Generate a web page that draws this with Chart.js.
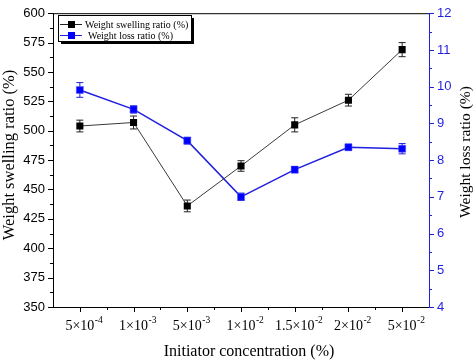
<!DOCTYPE html>
<html>
<head>
<meta charset="utf-8">
<script src="https://cdn.jsdelivr.net/npm/chart.js@4.4.0/dist/chart.umd.min.js"></script>
<style>
    html, body { margin: 0; padding: 0; background: #fff; }
    #wrap { width: 474px; height: 361px; position: relative; }
</style>
</head>
<body>
<div id="wrap"><canvas id="chart"></canvas></div>
<script>
// Data
const categories = ['5×10⁻⁴', '1×10⁻³', '5×10⁻³', '1×10⁻²', '1.5×10⁻²', '2×10⁻²', '5×10⁻²'];
const swellingRatio = [504, 507, 436, 470, 505, 526, 569];
const swellingErr = [5, 5.5, 5, 4.5, 6, 5, 6];
const lossRatio = [9.91, 9.38, 8.53, 7.0, 7.74, 8.35, 8.31];
const lossErr = [0.2, 0.1, 0.09, 0.1, 0.08, 0.08, 0.14];
const leftTicks = { min: 350, max: 600, step: 25 };
const rightTicks = { min: 4, max: 12, step: 1 };

const BLUE = '#1f1fe0';
const SERIF = '"Liberation Serif", "Times New Roman", serif';
const SANS = '"Liberation Sans", Arial, sans-serif';
const SUP = { '⁻': '-', '⁰': '0', '¹': '1', '²': '2', '³': '3', '⁴': '4', '⁵': '5', '⁶': '6', '⁷': '7', '⁸': '8', '⁹': '9' };

// tick marks, frame, error bars, titles and legend
const decorPlugin = {
    id: 'decor',
    beforeDatasetsDraw(chart) {
        const ctx = chart.ctx;
        const x = chart.scales.x;
        const errs = [swellingErr, lossErr];
        chart.data.datasets.forEach((ds, i) => {
            const ys = chart.scales[ds.yAxisID];
            ctx.save();
            ctx.strokeStyle = i === 0 ? '#222' : BLUE;
            ctx.lineWidth = 1;
            ds.data.forEach((v, j) => {
                const px = x.getPixelForValue(j);
                const top = ys.getPixelForValue(v + errs[i][j]);
                const bot = ys.getPixelForValue(v - errs[i][j]);
                ctx.beginPath();
                ctx.moveTo(px, top); ctx.lineTo(px, bot);
                ctx.moveTo(px - 3.5, top); ctx.lineTo(px + 3.5, top);
                ctx.moveTo(px - 3.5, bot); ctx.lineTo(px + 3.5, bot);
                ctx.stroke();
            });
            ctx.restore();
        });
    },
    afterDraw(chart) {
        const ctx = chart.ctx;
        const area = chart.chartArea;
        const x = chart.scales.x, y = chart.scales.y, y1 = chart.scales.y1;
        ctx.save();
        ctx.lineWidth = 1;

        // top frame
        ctx.strokeStyle = '#000';
        ctx.beginPath();
        ctx.moveTo(area.left, area.top + 0.5);
        ctx.lineTo(area.right, area.top + 0.5);
        ctx.stroke();

        // left ticks
        ctx.beginPath();
        for (let v = leftTicks.min; v <= leftTicks.max; v += leftTicks.step / 2) {
            const py = Math.round(y.getPixelForValue(v)) + 0.5;
            const len = (v - leftTicks.min) % leftTicks.step === 0 ? 5 : 3;
            ctx.moveTo(area.left, py); ctx.lineTo(area.left - len, py);
        }
        // bottom ticks
        const n = categories.length;
        for (let j = 0; j < n; j++) {
            const px = Math.round(x.getPixelForValue(j)) + 0.5;
            ctx.moveTo(px, area.bottom); ctx.lineTo(px, area.bottom + 5);
            if (j > 0) {
                const mx = Math.round((x.getPixelForValue(j - 1) + x.getPixelForValue(j)) / 2) + 0.5;
                ctx.moveTo(mx, area.bottom); ctx.lineTo(mx, area.bottom + 3);
            }
        }
        ctx.stroke();

        // right ticks
        ctx.strokeStyle = BLUE;
        ctx.beginPath();
        for (let v = rightTicks.min; v <= rightTicks.max; v += rightTicks.step / 2) {
            const py = Math.round(y1.getPixelForValue(v)) + 0.5;
            const len = (v - rightTicks.min) % rightTicks.step === 0 ? 5 : 3;
            ctx.moveTo(area.right, py); ctx.lineTo(area.right + len, py);
        }
        ctx.stroke();

        // x tick labels: mantissa centred on tick, exponent raised to the right
        ctx.fillStyle = '#000';
        ctx.textBaseline = 'alphabetic';
        categories.forEach((lab, j) => {
            const k = lab.indexOf('⁻');
            const base = k >= 0 ? lab.slice(0, k) : lab;
            const exp = k >= 0 ? lab.slice(k).split('').map(c => SUP[c] || c).join('') : '';
            const px = x.getPixelForValue(j);
            ctx.font = '14px ' + SERIF;
            const w = ctx.measureText(base).width;
            ctx.textAlign = 'center';
            ctx.fillText(base, px, 330);
            ctx.font = '9.5px ' + SERIF;
            ctx.textAlign = 'left';
            ctx.fillText(exp, px + w / 2 + 0.5, 323);
        });

        // axis titles
        ctx.fillStyle = '#000';
        ctx.textAlign = 'center';
        ctx.textBaseline = 'middle';
        ctx.font = '16px ' + SERIF;
        ctx.fillText('Initiator concentration (%)', 249, 352);
        ctx.save();
        ctx.translate(10, 155);
        ctx.rotate(-Math.PI / 2);
        ctx.font = '16.5px ' + SERIF;
        ctx.fillText('Weight swelling ratio (%)', 0, 0);
        ctx.restore();
        ctx.save();
        ctx.translate(466, 152);
        ctx.rotate(-Math.PI / 2);
        ctx.font = '15.5px ' + SERIF;
        ctx.fillText('Weight loss ratio (%)', 0, 0);
        ctx.restore();

        // legend with drop shadow
        const lx = 58, ly = 15, lw = 133, lh = 26;
        ctx.fillStyle = '#000';
        ctx.fillRect(lx + 3, ly + 3, lw, lh);
        ctx.fillStyle = '#fff';
        ctx.fillRect(lx, ly, lw, lh);
        ctx.strokeStyle = '#000';
        ctx.strokeRect(lx + 0.5, ly + 0.5, lw, lh);
        const rows = [
            { label: chart.data.datasets[0].label, color: '#222', fill: '#000', y: ly + 9, tx: 85 },
            { label: chart.data.datasets[1].label, color: BLUE, fill: '#0000ff', y: ly + 20, tx: 88 }
        ];
        ctx.font = '10px ' + SERIF;
        ctx.textAlign = 'left';
        rows.forEach(r => {
            ctx.strokeStyle = r.color;
            ctx.beginPath();
            ctx.moveTo(60, r.y + 0.5); ctx.lineTo(82, r.y + 0.5);
            ctx.stroke();
            ctx.fillStyle = r.fill;
            ctx.fillRect(68, r.y - 3, 7, 7);
            ctx.fillStyle = '#000';
            ctx.fillText(r.label, r.tx, r.y + 1);
        });
        ctx.restore();
    }
};

const ctx = document.getElementById('chart').getContext('2d');
new Chart(ctx, {
    type: 'line',
    data: {
        labels: categories,
        datasets: [{
            label: 'Weight swelling ratio (%)',
            data: swellingRatio,
            yAxisID: 'y',
            borderColor: '#3a3a3a',
            borderWidth: 1,
            pointStyle: 'rect',
            pointRadius: 5,
            pointBackgroundColor: '#000',
            pointBorderColor: '#000',
            pointBorderWidth: 0,
            tension: 0
        }, {
            label: 'Weight loss ratio (%)',
            data: lossRatio,
            yAxisID: 'y1',
            borderColor: BLUE,
            borderWidth: 1.5,
            pointStyle: 'rect',
            pointRadius: 5,
            pointBackgroundColor: '#0000ff',
            pointBorderColor: '#5a5aff',
            pointBorderWidth: 0.5,
            tension: 0
        }]
    },
    options: {
        responsive: true,
        maintainAspectRatio: false,
        animation: false,
        layout: { padding: { top: 5, left: 0, right: 0, bottom: 0 } },
        plugins: {
            legend: { display: false },
            tooltip: { enabled: false }
        },
        scales: {
            x: {
                offset: true,
                grid: { display: true, drawOnChartArea: false, drawTicks: false },
                border: { color: '#000', width: 1 },
                ticks: { display: false, autoSkip: false },
                afterFit(scale) { scale.height = 54; }
            },
            y: {
                position: 'left',
                min: leftTicks.min,
                max: leftTicks.max,
                grid: { display: true, drawOnChartArea: false, drawTicks: false },
                border: { color: '#000', width: 1 },
                ticks: {
                    stepSize: leftTicks.step,
                    color: '#000',
                    padding: 8,
                    font: { family: SANS, size: 13, lineHeight: 0.8 }
                },
                afterFit(scale) { scale.width = 53; }
            },
            y1: {
                position: 'right',
                min: rightTicks.min,
                max: rightTicks.max,
                grid: { display: true, drawOnChartArea: false, drawTicks: false },
                border: { color: BLUE, width: 1 },
                ticks: {
                    stepSize: rightTicks.step,
                    color: BLUE,
                    padding: 8,
                    font: { family: SANS, size: 13, lineHeight: 0.8 }
                },
                afterFit(scale) { scale.width = 45; }
            }
        }
    },
    plugins: [decorPlugin]
});
</script>
</body>
</html>
